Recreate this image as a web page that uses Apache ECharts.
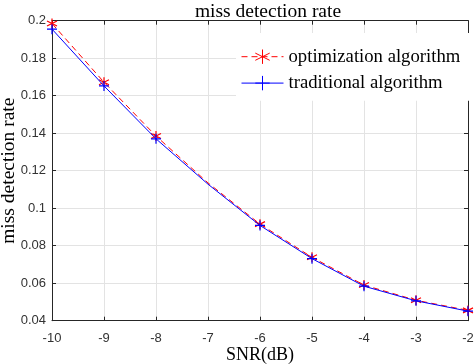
<!DOCTYPE html>
<html>
<head>
<meta charset="utf-8">
<script src="https://cdn.jsdelivr.net/npm/echarts@6/dist/echarts.min.js"></script>
<style>html,body{margin:0;padding:0;background:#fff}#c{width:474px;height:364px}</style>
</head>
<body>
<div id="c"></div>
<script>
var snr = [-10, -9, -8, -7, -6, -5, -4, -3, -2];
var optimization = [0.1985, 0.1672, 0.1385, 0.1135, 0.0915, 0.0738, 0.0590, 0.0509, 0.0455];
var traditional  = [0.1955, 0.1652, 0.1370, 0.1128, 0.0908, 0.0731, 0.0584, 0.0506, 0.0451];
var markerShown  = [true, true, true, false, true, true, true, true, true];

var star = 'path://M0,-1L0,1M-0.866,-0.5L0.866,0.5M-0.866,0.5L0.866,-0.5';
var plus = 'path://M0,-1L0,1M-1,0L1,0';

function build(vals){
  return snr.map(function(x,i){
    var d = {value:[x, vals[i]]};
    if(!markerShown[i]) d.symbol = 'none';
    return d;
  });
}
var axisCol = '#262626';
var gridCol = '#e3e3e3';
var chart = echarts.init(document.getElementById('c'), null, {renderer:'canvas'});
chart.setOption({
  backgroundColor:'#fff',
  animation:false,
  title:{text:'miss detection rate', left:263, textAlign:'center', top:-3,
    textStyle:{fontFamily:'Liberation Serif', fontSize:19.5, fontWeight:'normal', color:'#000'}},
  grid:{left:52, right:6, top:20.7, bottom:43.3, containLabel:false, outerBoundsMode:'none'},
  legend:{
    left:236, top:33, orient:'vertical',
    padding:[14,12,8,5], itemGap:7, itemWidth:42, itemHeight:18,
    backgroundColor:'#fff',
    lineStyle:{width:1},
    itemStyle:{borderWidth:1},
    textStyle:{fontFamily:'Liberation Serif', fontSize:18.7, color:'#000', lineHeight:18},
    data:['optimization algorithm','traditional algorithm']
  },
  xAxis:[{
    type:'value', min:-10, max:-2, interval:1,
    name:'SNR(dB)', nameLocation:'middle', nameGap:26, nameMoveOverlap:false,
    nameTextStyle:{fontFamily:'Liberation Serif', fontSize:18, color:'#000'},
    axisLine:{onZero:false, lineStyle:{color:axisCol, width:1}},
    axisTick:{inside:true, length:4, lineStyle:{color:axisCol}},
    axisLabel:{fontFamily:'Liberation Sans', fontSize:13, color:'#333', margin:11},
    splitLine:{show:true, lineStyle:{color:gridCol, width:1}}
  },{
    type:'value', position:'top', min:-10, max:-2, interval:1,
    axisLine:{onZero:false, lineStyle:{color:axisCol, width:1}},
    axisTick:{inside:true, length:4, lineStyle:{color:axisCol}},
    axisLabel:{show:false}, splitLine:{show:false}
  }],
  yAxis:[{
    type:'value', min:0.04, max:0.2, interval:0.02,
    name:'miss detection rate', nameLocation:'middle', nameGap:33, nameMoveOverlap:false,
    nameTextStyle:{fontFamily:'Liberation Serif', fontSize:19.5, color:'#000'},
    axisLine:{show:true, onZero:false, lineStyle:{color:axisCol, width:1}},
    axisTick:{show:true, inside:true, length:4, lineStyle:{color:axisCol}},
    axisLabel:{fontFamily:'Liberation Sans', fontSize:13, color:'#333', margin:6,
      formatter:function(v){return String(+v.toFixed(2));}},
    splitLine:{show:true, lineStyle:{color:gridCol, width:1}}
  },{
    type:'value', position:'right', min:0.04, max:0.2, interval:0.02,
    axisLine:{show:true, onZero:false, lineStyle:{color:axisCol, width:1}},
    axisTick:{show:true, inside:true, length:4, lineStyle:{color:axisCol}},
    axisLabel:{show:false}, splitLine:{show:false}
  }],
  series:[{
    name:'optimization algorithm', type:'line',
    data:build(optimization),
    symbol:star, symbolSize:10, showAllSymbol:true,
    lineStyle:{color:'#ff0000', width:1, type:[6,4]},
    itemStyle:{color:'none', borderColor:'#ff0000', borderWidth:1.2},
    color:'#ff0000', z:2
  },{
    name:'traditional algorithm', type:'line',
    data:build(traditional),
    symbol:plus, symbolSize:10, showAllSymbol:true,
    lineStyle:{color:'#0000ff', width:1},
    itemStyle:{color:'none', borderColor:'#0000ff', borderWidth:1.2},
    color:'#0000ff', z:3
  }]
});
</script>
</body>
</html>
